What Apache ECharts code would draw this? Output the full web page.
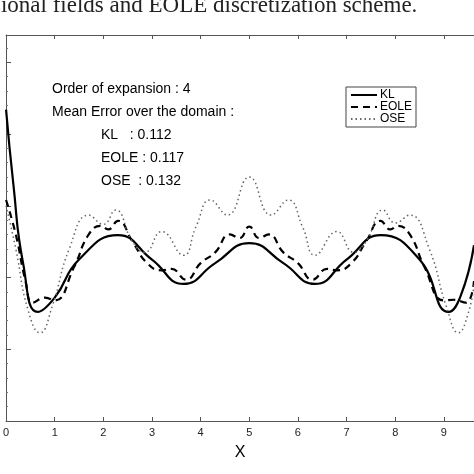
<!DOCTYPE html><html><head><meta charset="utf-8"><script src="https://cdn.jsdelivr.net/npm/echarts@6/dist/echarts.min.js"></script>
<style>html,body{margin:0;padding:0;background:#fff}#c{width:474px;height:474px}</style></head><body><div id="c"></div><script>
const klData=[[0,4.34],[0.15,3.3],[0.35,2.2],[0.65,1.52],[1.0,1.72],[1.5,2.25],[2.3,2.59],[3.0,2.25],[3.65,1.91],[4.3,2.2],[5,2.48],[5.7,2.2],[6.35,1.91],[7.0,2.25],[7.7,2.59],[8.5,2.25],[9.1,1.52],[9.35,1.75],[9.62,2.45]];
const eoleData=[[0,3.08],[0.2,2.6],[0.4,1.95],[0.55,1.65],[0.8,1.72],[1.0,1.68],[1.4,2.15],[1.7,2.6],[1.95,2.72],[2.1,2.67],[2.3,2.79],[2.6,2.5],[2.9,2.2],[3.2,2.1],[3.4,2.12],[3.7,1.97],[4.0,2.2],[4.3,2.35],[4.6,2.6],[4.8,2.55],[5,2.71],[5.2,2.55],[5.4,2.6],[5.7,2.35],[6.0,2.2],[6.3,1.97],[6.6,2.12],[6.8,2.1],[7.1,2.2],[7.4,2.5],[7.7,2.79],[7.9,2.67],[8.05,2.72],[8.3,2.6],[8.6,2.15],[9.0,1.68],[9.2,1.69],[9.45,1.65],[9.62,1.95]];
const oseData=[[0,3.0],[0.2,2.4],[0.45,1.55],[0.7,1.23],[0.95,1.6],[1.3,2.4],[1.7,2.87],[2.0,2.74],[2.25,2.94],[2.6,2.5],[2.85,2.35],[3.2,2.64],[3.65,2.31],[3.9,2.7],[4.2,3.08],[4.55,2.87],[5,3.4],[5.45,2.87],[5.8,3.08],[6.1,2.7],[6.35,2.31],[6.8,2.64],[7.15,2.35],[7.4,2.5],[7.75,2.94],[8.0,2.76],[8.3,2.87],[8.7,2.4],[9.05,1.6],[9.3,1.23],[9.5,1.5],[9.62,1.9]];
const xTicks=[0,1,2,3,4,5,6,7,8,9];
const annot=['Order of expansion : 4','Mean Error over the domain :','KL   : 0.112','EOLE : 0.117','OSE  : 0.132'];
const c=echarts.init(document.getElementById('c'));
const font='"Liberation Sans", Arial, sans-serif';
c.setOption({animation:false,
grid:{left:3,right:0,top:35,bottom:53},
xAxis:[{type:'value',min:0,max:9.62,interval:1,name:'X',nameLocation:'middle',nameGap:24,nameTextStyle:{fontSize:16,color:'#000',fontFamily:font},
 axisLine:{lineStyle:{color:'#555'}},axisTick:{inside:true,length:4,lineStyle:{color:'#555'}},splitLine:{show:false},
 axisLabel:{showMaxLabel:false,fontSize:11,color:'#222',fontFamily:font,margin:6,formatter:v=>xTicks.includes(v)?String(v):''}},
 {type:'value',position:'top',min:0,max:9.62,interval:1,axisLine:{lineStyle:{color:'#555'}},axisTick:{inside:true,length:4,lineStyle:{color:'#555'}},axisLabel:{show:false},splitLine:{show:false}}],
yAxis:{type:'value',min:0,max:5.38,interval:1,axisLine:{show:true,lineStyle:{color:'#555'}},axisTick:{inside:true,length:5,lineStyle:{color:'#555'}},
 minorTick:{show:true,splitNumber:5,length:2,lineStyle:{color:'#777'}},axisLabel:{show:false},splitLine:{show:false}},
legend:{right:58,top:87,orient:'vertical',itemGap:0,itemWidth:26,itemHeight:8,padding:[2,4,2,4],borderColor:'#444',borderWidth:1,borderRadius:0,
 itemStyle:{opacity:0},
 textStyle:{fontSize:12,fontFamily:font,color:'#000',padding:[0,0,0,-2]},data:['KL','EOLE','OSE']},
series:[
 {name:'KL',type:'line',data:klData,smooth:0.5,showSymbol:false,symbol:'none',lineStyle:{color:'#000',width:2.2}},
 {name:'EOLE',type:'line',data:eoleData,smooth:0.5,showSymbol:false,symbol:'none',lineStyle:{color:'#000',width:2.2,type:[7,5]}},
 {name:'OSE',type:'line',data:oseData,smooth:0.5,showSymbol:false,symbol:'none',lineStyle:{color:'#666',width:1.5,type:[1.5,3]}}],
graphic:[
 {type:'text',left:-8,top:-6,style:{text:'sional fields and EOLE discretization scheme.',font:'23px "Liberation Serif", "DejaVu Serif", serif',fill:'#222'}},
 {type:'text',left:52,top:82,style:{text:annot[0],font:'14px '+font,fill:'#000'}},
 {type:'text',left:52,top:105,style:{text:annot[1],font:'14px '+font,fill:'#000'}},
 {type:'text',left:101,top:128,style:{text:annot[2],font:'14px '+font,fill:'#000'}},
 {type:'text',left:101,top:151,style:{text:annot[3],font:'14px '+font,fill:'#000'}},
 {type:'text',left:101,top:174,style:{text:annot[4],font:'14px '+font,fill:'#000'}}]
});
</script></body></html>
